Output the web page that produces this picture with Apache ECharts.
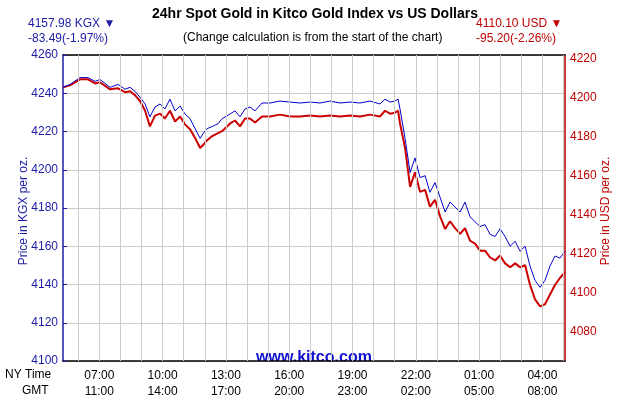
<!DOCTYPE html>
<html><head><meta charset="utf-8">
<script src="https://cdn.jsdelivr.net/npm/echarts@6/dist/echarts.min.js"></script>
<style>html,body{margin:0;padding:0;background:#fff}#c{width:630px;height:400px}</style>
</head><body><div id="c"></div>
<script>
const times=[5.28,5.61,6.09,6.46,6.80,7.03,7.51,7.89,8.22,8.46,8.69,8.93,9.17,9.40,9.64,9.88,10.11,10.35,10.59,10.83,11.06,11.30,11.54,11.78,11.92,12.11,12.35,12.63,12.82,13.20,13.43,13.67,13.91,14.14,14.38,14.71,15.09,15.56,16.04,16.51,16.99,17.46,17.93,18.41,18.88,19.35,19.83,20.30,20.54,20.78,21.01,21.16,21.25,21.49,21.73,21.96,22.20,22.44,22.67,22.91,23.15,23.39,23.62,23.86,24.10,24.33,24.57,24.81,25.04,25.28,25.52,25.76,25.99,26.23,26.47,26.71,26.94,27.18,27.41,27.65,27.89,28.12,28.36,28.60,28.83,29.07];
const kgx=[4243.1,4244.6,4248.2,4248.2,4246.2,4247.2,4243.1,4244.6,4242.1,4243.1,4241,4237.9,4234.4,4227.7,4232.8,4234.4,4231.8,4236.9,4230.8,4233.3,4229.2,4226.7,4221.5,4216.4,4219,4221.5,4222.6,4224.1,4226.7,4229.2,4230.8,4227.7,4231.8,4232.8,4230.8,4234.9,4234.9,4235.9,4235.4,4234.9,4235.4,4234.9,4235.9,4234.9,4235.4,4234.9,4235.9,4234.4,4236.9,4235.4,4235.9,4236.9,4231.8,4216.4,4198.5,4206.2,4195.9,4196.9,4188.2,4193.3,4185.6,4177.9,4183.1,4180.5,4177.9,4183.1,4175.4,4172.8,4170.3,4171.3,4166.2,4165.1,4169.2,4165.1,4160,4162.6,4157.4,4160,4149.7,4142.1,4138.5,4142.1,4149.7,4154.9,4153.8,4157.4];
const usd=[4205.4,4206.4,4209.5,4209.5,4207.4,4208,4204.4,4204.9,4202.9,4203.4,4201.4,4198.4,4193.4,4185.4,4190.9,4191.9,4189.4,4193.4,4187.9,4190.4,4186.4,4183.9,4179.4,4174.3,4175.8,4178.3,4180.4,4181.9,4182.9,4186.9,4188.4,4185.4,4189.4,4189.4,4187.4,4190.4,4190.4,4191.4,4190.4,4190.4,4190.9,4190.4,4190.9,4190.4,4190.9,4190.4,4191.4,4190.4,4193.4,4191.9,4192.4,4193.4,4186.9,4174.3,4154.3,4161.8,4151.8,4152.8,4144.2,4147.7,4139.2,4132.7,4136.7,4133.2,4130.2,4133.2,4126.7,4125.2,4121.6,4121.6,4118.1,4116.6,4119.1,4115.1,4113.1,4115.1,4113.1,4114.1,4104.1,4096.6,4093,4094.1,4099.1,4104.1,4107.6,4110.6];
const hourLines=[6,7,8,9,10,11,12,13,14,15,16,17,18,19,20,21,22,23,24,25,26,27,28,29];
const labelHours=[7,10,13,16,19,22,25,28];
const kgxData=times.map((t,i)=>[t,kgx[i]]);
const usdData=times.map((t,i)=>[t,usd[i]]);
const F='"Liberation Sans", Arial, sans-serif';
const pad=n=>(n<10?'0':'')+n;
const chart=echarts.init(document.getElementById('c'));
chart.setOption({
  animation:false,
  grid:{left:63,right:65,top:55,bottom:33},
  title:{text:'24hr Spot Gold in Kitco Gold Index vs US Dollars',left:'center',top:2,textStyle:{fontFamily:F,fontSize:14,fontWeight:'bold',color:'#000'}},
  graphic:[
    {type:'text',left:28,top:18,style:{text:'4157.98 KGX ▼',fill:'#1c1ca8',font:'12px '+F}},
    {type:'text',left:28,top:33,style:{text:'-83.49(-1.97%)',fill:'#1c1ca8',font:'12px '+F}},
    {type:'text',left:476,top:18,style:{text:'4110.10 USD ▼',fill:'#c00000',font:'12px '+F}},
    {type:'text',left:476,top:33,style:{text:'-95.20(-2.26%)',fill:'#c00000',font:'12px '+F}},
    {type:'text',left:183,top:32,style:{text:'(Change calculation is from the start of the chart)',fill:'#000',font:'12px '+F}},
    {type:'text',left:256,top:350,style:{text:'www.kitco.com',fill:'#1010d0',font:'bold 16px '+F}},
    {type:'text',left:5,top:369,style:{text:'NY Time',fill:'#000',font:'12px '+F}},
    {type:'text',left:22,top:385,style:{text:'GMT',fill:'#000',font:'12px '+F}},
    {type:'text',x:24,y:211,rotation:Math.PI/2,style:{text:'Price in KGX per oz.',fill:'#1c1ca8',font:'12px '+F,align:'center',verticalAlign:'middle'}},
    {type:'text',x:606,y:211,rotation:Math.PI/2,style:{text:'Price in USD per oz.',fill:'#c00000',font:'12px '+F,align:'center',verticalAlign:'middle'}}
  ],
  xAxis:[{type:'value',min:5.28,max:29.07,
    axisLine:{show:true,onZero:false,lineStyle:{color:'#000',width:1.5}},axisTick:{show:false},
    splitLine:{show:false},
    axisLabel:{fontFamily:F,fontSize:12,color:'#000',margin:7,lineHeight:16,customValues:labelHours,
      formatter:v=>{const h=Math.round(v);return pad(h%24)+':00\n'+pad((h+4)%24)+':00';}}},
    {type:'value',position:'top',min:5.28,max:29.07,axisLine:{show:true,lineStyle:{color:'#000',width:1.5}},
     axisTick:{show:true,inside:true,length:5,customValues:hourLines,lineStyle:{color:'#999'}},axisLabel:{show:false},splitLine:{show:false}}],
  yAxis:[{type:'value',min:4100,max:4260,interval:20,position:'left',
    axisLine:{show:true,lineStyle:{color:'#1c1ca8',width:1.5}},axisTick:{show:true,inside:true,length:4,lineStyle:{color:'#1c1ca8'}},
    splitLine:{show:true,lineStyle:{color:'#cccccc'}},axisLabel:{fontFamily:F,fontSize:12,color:'#1c1ca8',margin:5,formatter:v=>String(v)}},
   {type:'value',min:4065,max:4222,interval:5,position:'right',
    axisLine:{show:true,lineStyle:{color:'#c00000',width:1.5}},axisTick:{show:false},splitLine:{show:false},
    axisLabel:{fontFamily:F,fontSize:12,color:'#c00000',margin:5,showMinLabel:false,showMaxLabel:false,
      formatter:v=>(Math.round(v)%20===0?String(Math.round(v)):'')}}],
  series:[
    {type:'line',name:'grid',yAxisIndex:0,data:[],silent:true,
     markLine:{silent:true,symbol:'none',label:{show:false},lineStyle:{color:'#cccccc',type:'solid',width:1},data:hourLines.map(h=>({xAxis:h}))}},
    {type:'line',name:'USD',yAxisIndex:1,data:usdData,showSymbol:false,lineStyle:{color:'#cc0000',width:2},itemStyle:{color:'#cc0000'}},
    {type:'line',name:'KGX',yAxisIndex:0,data:kgxData,showSymbol:false,lineStyle:{color:'#0000cc',width:1},itemStyle:{color:'#0000cc'}}
  ]
});
</script></body></html>
